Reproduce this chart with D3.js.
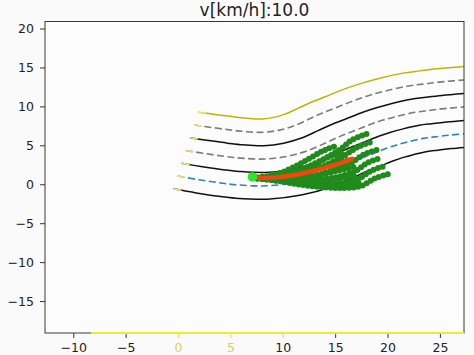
<!DOCTYPE html>
<html><head><meta charset="utf-8">
<script src="https://cdn.jsdelivr.net/npm/d3@7"></script>
<style>
html,body{margin:0;padding:0;background:#fafafb;}
svg{display:block;font-family:"DejaVu Sans",sans-serif;}
</style>
</head><body>
<svg id="chart" width="474" height="355"></svg>
<script>
const chartTitle = "v[km/h]:10.0";
const xTicks = [-10, -5, 0, 5, 10, 15, 20, 25];
const yTicks = [-15, -10, -5, 0, 5, 10, 15, 20];
const xLimits = [-12.7, 27.3];
const yLimits = [-19.1, 20.9];

// lane lines (top to bottom)
const laneEdgeTop = [[1.91,9.25],[3.53,8.97],[5.15,8.69],[6.58,8.48],[8.02,8.39],[9.26,8.62],[10.21,9.00],[11.45,9.74],[12.88,10.62],[14.50,11.48],[16.13,12.34],[17.65,13.02],[19.27,13.62],[21.47,14.27],[23.09,14.56],[24.71,14.82],[27.29,15.12],[29.0,15.30]];
const laneDash1 = [[1.52,7.61],[3.23,7.29],[4.94,6.98],[6.40,6.77],[8.10,6.67],[9.68,6.95],[10.96,7.45],[12.39,8.30],[13.74,9.13],[15.31,9.96],[16.88,10.79],[18.29,11.43],[19.80,11.98],[21.86,12.59],[23.37,12.86],[24.94,13.12],[27.47,13.41],[29.15,13.59]];
const laneSolid2 = [[1.13,5.97],[2.93,5.61],[4.73,5.28],[6.22,5.06],[8.19,4.95],[10.09,5.28],[11.72,5.91],[13.32,6.85],[14.60,7.64],[16.12,8.44],[17.64,9.25],[18.94,9.83],[20.33,10.35],[22.24,10.92],[23.66,11.17],[25.18,11.41],[27.65,11.70],[29.30,11.87]];
const laneDash3 = [[0.74,4.33],[2.63,3.93],[4.52,3.57],[6.04,3.35],[8.27,3.24],[10.51,3.61],[12.47,4.36],[14.26,5.41],[15.46,6.15],[16.92,6.92],[18.39,7.70],[19.58,8.24],[20.87,8.71],[22.63,9.24],[23.94,9.47],[25.41,9.71],[27.83,9.99],[29.45,10.16]];
const laneSolid4 = [[0.35,2.69],[2.33,2.25],[4.31,1.86],[5.86,1.64],[8.36,1.52],[10.92,1.94],[13.23,2.82],[15.20,3.97],[16.32,4.66],[17.73,5.40],[19.15,6.16],[20.23,6.64],[21.40,7.08],[23.02,7.57],[24.23,7.78],[25.64,8.00],[28.01,8.28],[29.60,8.45]];
const refLine5 = [[-0.04,1.05],[2.03,0.57],[4.10,0.16],[5.68,-0.08],[8.44,-0.20],[11.34,0.27],[13.98,1.27],[16.14,2.52],[17.18,3.17],[18.54,3.89],[19.90,4.61],[20.87,5.05],[21.93,5.44],[23.41,5.89],[24.51,6.08],[25.88,6.30],[28.19,6.57],[29.75,6.74]];
const laneSolid6 = [[-0.43,-0.59],[1.73,-1.11],[3.89,-1.55],[5.50,-1.79],[8.52,-1.92],[11.76,-1.39],[14.73,-0.28],[17.07,1.08],[18.04,1.68],[19.35,2.37],[20.65,3.06],[21.51,3.45],[22.46,3.80],[23.79,4.21],[24.79,4.38],[26.11,4.59],[28.37,4.85],[29.90,5.02]];

// candidate trajectories (green)
const cand1f = [[7.16,0.81],[8.59,1.07],[10.02,1.58],[11.45,2.48],[12.79,3.51],[14.03,4.41],[15.17,4.92]];
const cand2f = [[7.16,0.81],[8.78,0.94],[10.40,1.32],[11.93,1.97],[13.36,2.87],[14.60,3.64],[15.74,4.02]];
const cand3f = [[7.16,0.81],[8.97,0.81],[10.69,1.07],[12.31,1.58],[13.84,2.22],[15.17,2.80],[16.32,3.12]];
const cand4f = [[7.16,0.81],[9.06,0.75],[10.97,0.75],[12.69,0.94],[14.22,1.39],[15.55,1.84],[16.79,2.22]];
const cand5f = [[7.16,0.81],[9.16,0.62],[11.16,0.42],[12.98,0.36],[14.60,0.55],[15.94,0.87],[17.18,1.26]];
const cand6f = [[7.16,0.81],[9.26,0.49],[11.35,0.10],[13.26,-0.15],[14.98,-0.15],[16.32,0.04],[17.56,0.30]];
const cand1s = [[7.16,0.81],[9.06,0.94],[10.97,1.39],[12.79,2.35],[14.31,3.51],[15.55,4.54],[16.60,5.69],[18.03,6.47]];
const cand2s = [[7.16,0.81],[9.16,0.81],[11.16,1.07],[13.07,1.84],[14.69,2.87],[16.03,3.83],[17.18,4.79],[18.51,5.44]];
const cand3s = [[7.16,0.81],[9.26,0.75],[11.35,0.81],[13.36,1.20],[15.08,1.97],[16.51,2.74],[17.75,3.83],[18.99,4.41]];
const cand4s = [[7.16,0.81],[9.35,0.68],[11.55,0.55],[13.55,0.62],[15.36,1.00],[16.89,1.65],[18.13,2.80],[19.37,3.38]];
const cand5s = [[7.16,0.81],[9.45,0.55],[11.64,0.23],[13.74,0.04],[15.65,0.10],[17.18,0.67],[18.51,1.77],[19.75,2.35]];
const cand6s = [[7.16,0.81],[9.54,0.42],[11.83,-0.09],[13.93,-0.41],[15.84,-0.48],[17.46,-0.22],[18.89,0.81],[20.13,1.32]];

// chosen trajectory (red) and vehicle position
const bestPath = [[7.30,0.85],[8.78,0.81],[10.21,1.00],[11.64,1.32],[13.07,1.77],[14.50,2.29],[15.74,2.80],[16.60,3.25]];
const vehicle = [7.10, 0.94];

const W = 474, H = 355;
const plot = {left: 45, right: 464, top: 21.5, bottom: 333};
const svg = d3.select("#chart");
svg.append("rect").attr("width", W).attr("height", H).attr("fill", "#fafafb");

const x = d3.scaleLinear().domain(xLimits).range([plot.left, plot.right]);
const y = d3.scaleLinear().domain(yLimits).range([plot.bottom, plot.top]);

svg.append("rect").attr("x", plot.left).attr("y", plot.top)
  .attr("width", plot.right - plot.left).attr("height", plot.bottom - plot.top)
  .attr("fill", "#fcfcfd");

svg.append("clipPath").attr("id", "clip").append("rect")
  .attr("x", plot.left).attr("y", plot.top)
  .attr("width", plot.right - plot.left).attr("height", plot.bottom - plot.top);

const g = svg.append("g").attr("clip-path", "url(#clip)");
const line = d3.line().x(d => x(d[0])).y(d => y(d[1])).curve(d3.curveCatmullRom.alpha(0.5));

const lanes = [
  {data: laneEdgeTop, color: "#bdb500", dash: null, w: 1.5},
  {data: laneDash1, color: "#7b7b7b", dash: "7,3.5", w: 1.6},
  {data: laneSolid2, color: "#111", dash: null, w: 1.5},
  {data: laneDash3, color: "#7b7b7b", dash: "7,3.5", w: 1.6},
  {data: laneSolid4, color: "#111", dash: null, w: 1.5},
  {data: refLine5, color: "#2a86b8", dash: "7,3.5", w: 1.6},
  {data: laneSolid6, color: "#111", dash: null, w: 1.5}
];
lanes.forEach(l => {
  g.append("path").attr("d", line(l.data)).attr("fill", "none")
    .attr("stroke", l.color).attr("stroke-width", l.w)
    .attr("stroke-dasharray", l.dash);
  // yellowish tint at the start of each line (as in the picture)
  g.append("path").attr("d", line(l.data.slice(0, 2))).attr("fill", "none")
    .attr("stroke", "#e8e870").attr("stroke-width", 1.6)
    .attr("stroke-dasharray", "8,400");
});

const candidates = [cand6s, cand5s, cand4s, cand3s, cand2s, cand1s, cand6f, cand5f, cand4f, cand3f, cand2f, cand1f];
candidates.forEach(c => {
  g.append("path").attr("d", line(c)).attr("fill", "none")
    .attr("stroke", "#1f8b1a").attr("stroke-width", 6)
    .attr("stroke-linecap", "round").attr("stroke-dasharray", "0,4.6");
});

g.append("path").attr("d", line(bestPath)).attr("fill", "none")
  .attr("stroke", "#f2460f").attr("stroke-width", 4.5).attr("stroke-linecap", "round");

g.append("circle").attr("cx", x(vehicle[0])).attr("cy", y(vehicle[1])).attr("r", 4.8).attr("fill", "#2ee62e");

// axes
const fmt = d => d < 0 ? "\u2212" + Math.abs(d) : String(d);
const xAxis = svg.append("g").attr("transform", `translate(0,${plot.bottom})`)
  .call(d3.axisBottom(x).tickValues(xTicks).tickSize(5).tickPadding(5).tickFormat(fmt));
const yAxis = svg.append("g").attr("transform", `translate(${plot.left},0)`)
  .call(d3.axisLeft(y).tickValues(yTicks).tickSize(5).tickPadding(6).tickFormat(fmt));
[xAxis, yAxis].forEach(a => {
  a.select(".domain").remove();
  a.selectAll("line").attr("stroke", "#333").attr("stroke-width", 1);
  a.selectAll("text").attr("fill", "#222").attr("font-size", 12.5)
    .attr("font-family", "DejaVu Sans, sans-serif");
});
xAxis.selectAll(".tick").filter(d => d === 0 || d === 5).select("text").attr("fill", "#d6d060");
xAxis.selectAll(".tick").filter(d => d === 0 || d === 5 || d === 10).select("line").attr("stroke", "#e6e040");

// frame
svg.append("rect").attr("x", plot.left).attr("y", plot.top)
  .attr("width", plot.right - plot.left).attr("height", plot.bottom - plot.top)
  .attr("fill", "none").attr("stroke", "#3a3a30").attr("stroke-width", 1);
svg.append("line").attr("x1", x(-8.3)).attr("x2", plot.right).attr("y1", plot.bottom).attr("y2", plot.bottom)
  .attr("stroke", "#ecec30").attr("stroke-width", 2);

svg.append("text").attr("x", (plot.left + plot.right) / 2).attr("y", 16)
  .attr("text-anchor", "middle").attr("font-size", 17).attr("fill", "#222")
  .text(chartTitle);
</script>
</body></html>
